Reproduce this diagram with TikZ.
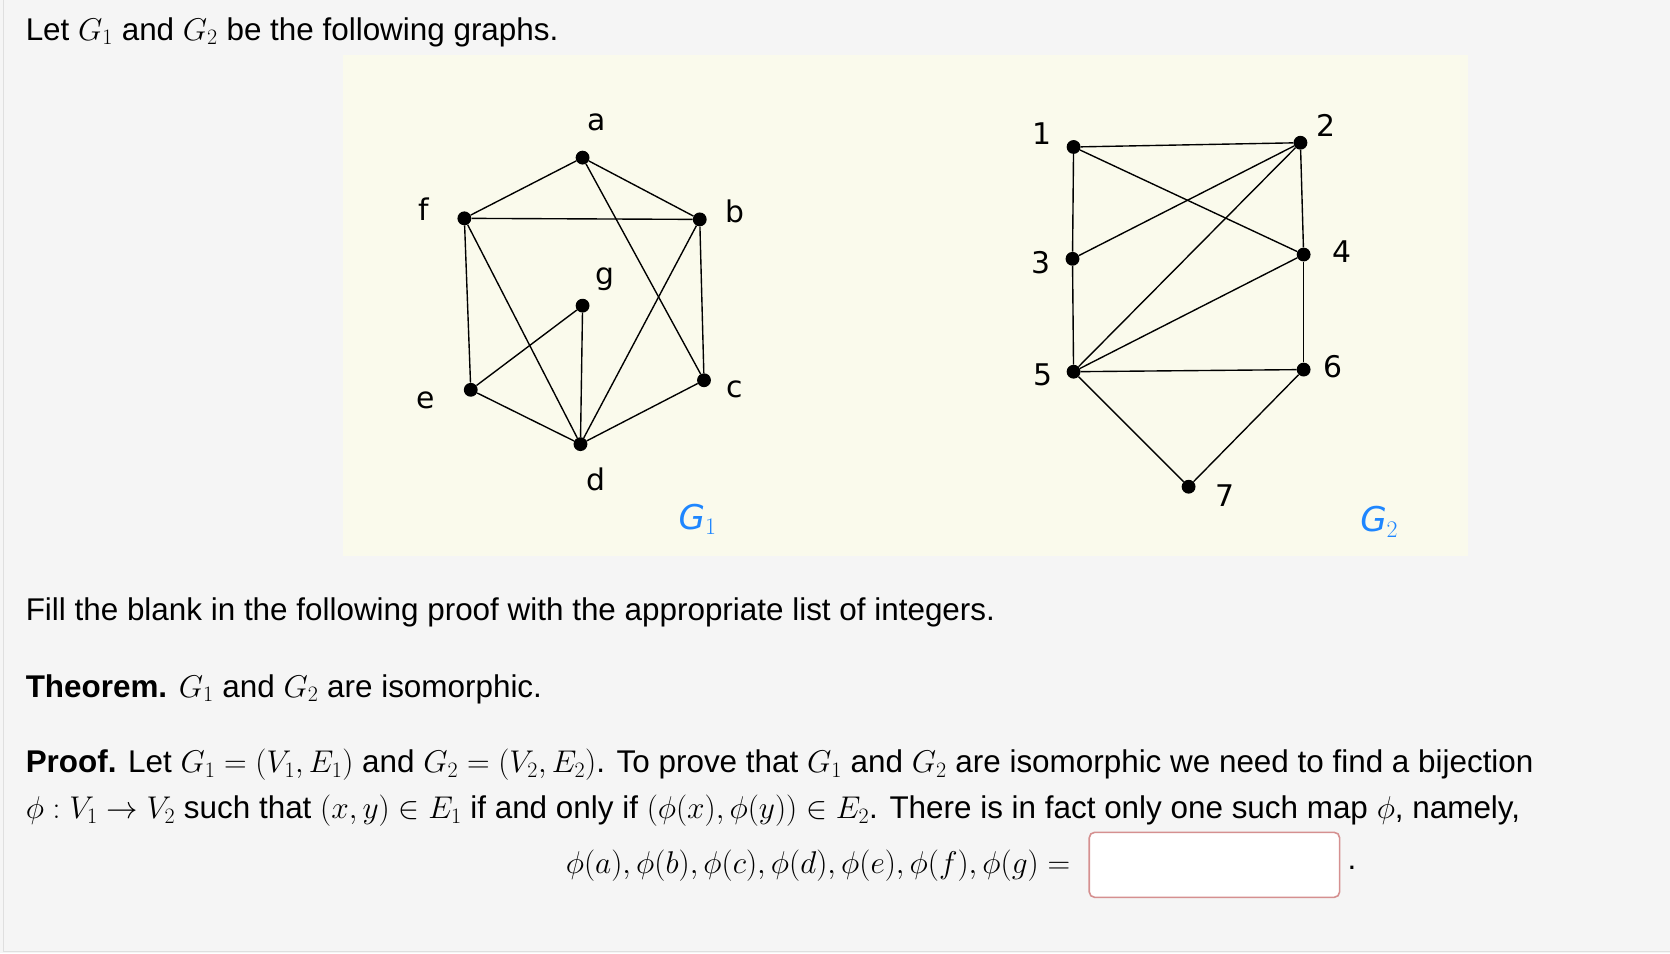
\RequirePackage{fix-cm}
\documentclass[tikz,border=0pt]{standalone}
\usepackage{fontspec}
\setmainfont{Liberation Sans}
\setsansfont{DejaVu Sans}
\definecolor{panel}{HTML}{FAFAEC}
\definecolor{bgc}{HTML}{F5F5F5}
\definecolor{gblue}{HTML}{1E86FF}
\begin{document}
\begin{tikzpicture}[x=1pt,y=-1pt,
  v/.style={circle,fill=black,inner sep=0pt,minimum size=13pt},
  e/.style={line width=1.3pt},
  lb/.style={font=\sffamily\fontsize{28}{28}\selectfont},
  gl/.style={font=\sffamily\itshape\fontsize{32}{32}\selectfont,text=gblue},
  tx/.style={anchor=west,font=\fontsize{29.5}{34}\selectfont,inner sep=0pt}]
\useasboundingbox (0,0) rectangle (1568,895);
\fill[bgc] (0,0) rectangle (1568,895);
\draw[gray!25,line width=1pt] (3,-2) -- (3,893) -- (1568,893);
\fill[panel] (322,52) rectangle (1378,522);
% G1
\node[v] (a) at (547,148) {}; \node[v] (b) at (657,206) {};
\node[v] (c) at (661,357) {}; \node[v] (d) at (545,417) {};
\node[v] (ee) at (442,366) {}; \node[v] (f) at (436,205) {};
\node[v] (g) at (547,287) {};
\foreach \p/\q in {a/f,a/b,a/c,f/b,f/ee,f/d,b/c,b/d,c/d,ee/d,ee/g,g/d} \draw[e] (\p)--(\q);
\node[lb] (la) at (560,115) {a}; \node[lb] (lbb) at (690,198) {b};
\node[lb] (lc) at (690,366) {c}; \node[lb] (ld) at (560,450) {d};
\node[lb] (le) at (400,376) {e}; \node[lb] (lf) at (398,196) {f};
\node[lb] (lg) at (568,262) {g};
\node[gl] (G1) at (655,488) {G$_1$};
% G2
\node[v] (n1) at (1008,138) {}; \node[v] (n2) at (1221,134) {};
\node[v] (n3) at (1007,243) {}; \node[v] (n4) at (1224,239) {};
\node[v] (n5) at (1008,349) {}; \node[v] (n6) at (1224,347) {};
\node[v] (n7) at (1116,457) {};
\foreach \p/\q in {n1/n2,n1/n3,n1/n4,n2/n3,n2/n5,n2/n4,n3/n5,n4/n5,n4/n6,n5/n6,n5/n7,n6/n7} \draw[e] (\p)--(\q);
\node[lb] (l1) at (978,125) {1}; \node[lb] (l2) at (1245,118) {2};
\node[lb] (l3) at (977,247) {3}; \node[lb] (l4) at (1260,236) {4};
\node[lb] (l5) at (979,352) {5}; \node[lb] (l6) at (1252,344) {6};
\node[lb] (l7) at (1150,465) {7};
\node[gl] (G2) at (1295,490) {G$_2$};
% text
\node[tx] (t1) at (24,30) {Let $G_1$ and $G_2$ be the following graphs.};
\node[tx] (t2) at (24,575) {Fill the blank in the following proof with the appropriate list of integers.};
\node[tx] (t3) at (24,647) {\textbf{Theorem.} $G_1$ and $G_2$ are isomorphic.};
\node[tx] (t4) at (24,718) {\textbf{Proof.} Let $G_1=(V_1,E_1)$ and $G_2=(V_2,E_2)$. To prove that $G_1$ and $G_2$ are isomorphic we need to find a bijection};
\node[tx] (t5) at (24,761) {$\phi:V_1\to V_2$ such that $(x,y)\in E_1$ if and only if $(\phi(x),\phi(y))\in E_2$. There is in fact only one such map $\phi$, namely,};
\node[tx,anchor=east] (t6) at (1005,813) {$\phi(a),\phi(b),\phi(c),\phi(d),\phi(e),\phi(f),\phi(g)=$};
\node[draw=red!45!gray!60,fill=white,rounded corners=5pt,line width=1.5pt,minimum width=235pt,minimum height=61pt,anchor=west] (box) at (1022,812) {};
\node[tx] (dot) at (1265,815) {.};
\end{tikzpicture}
\end{document}
